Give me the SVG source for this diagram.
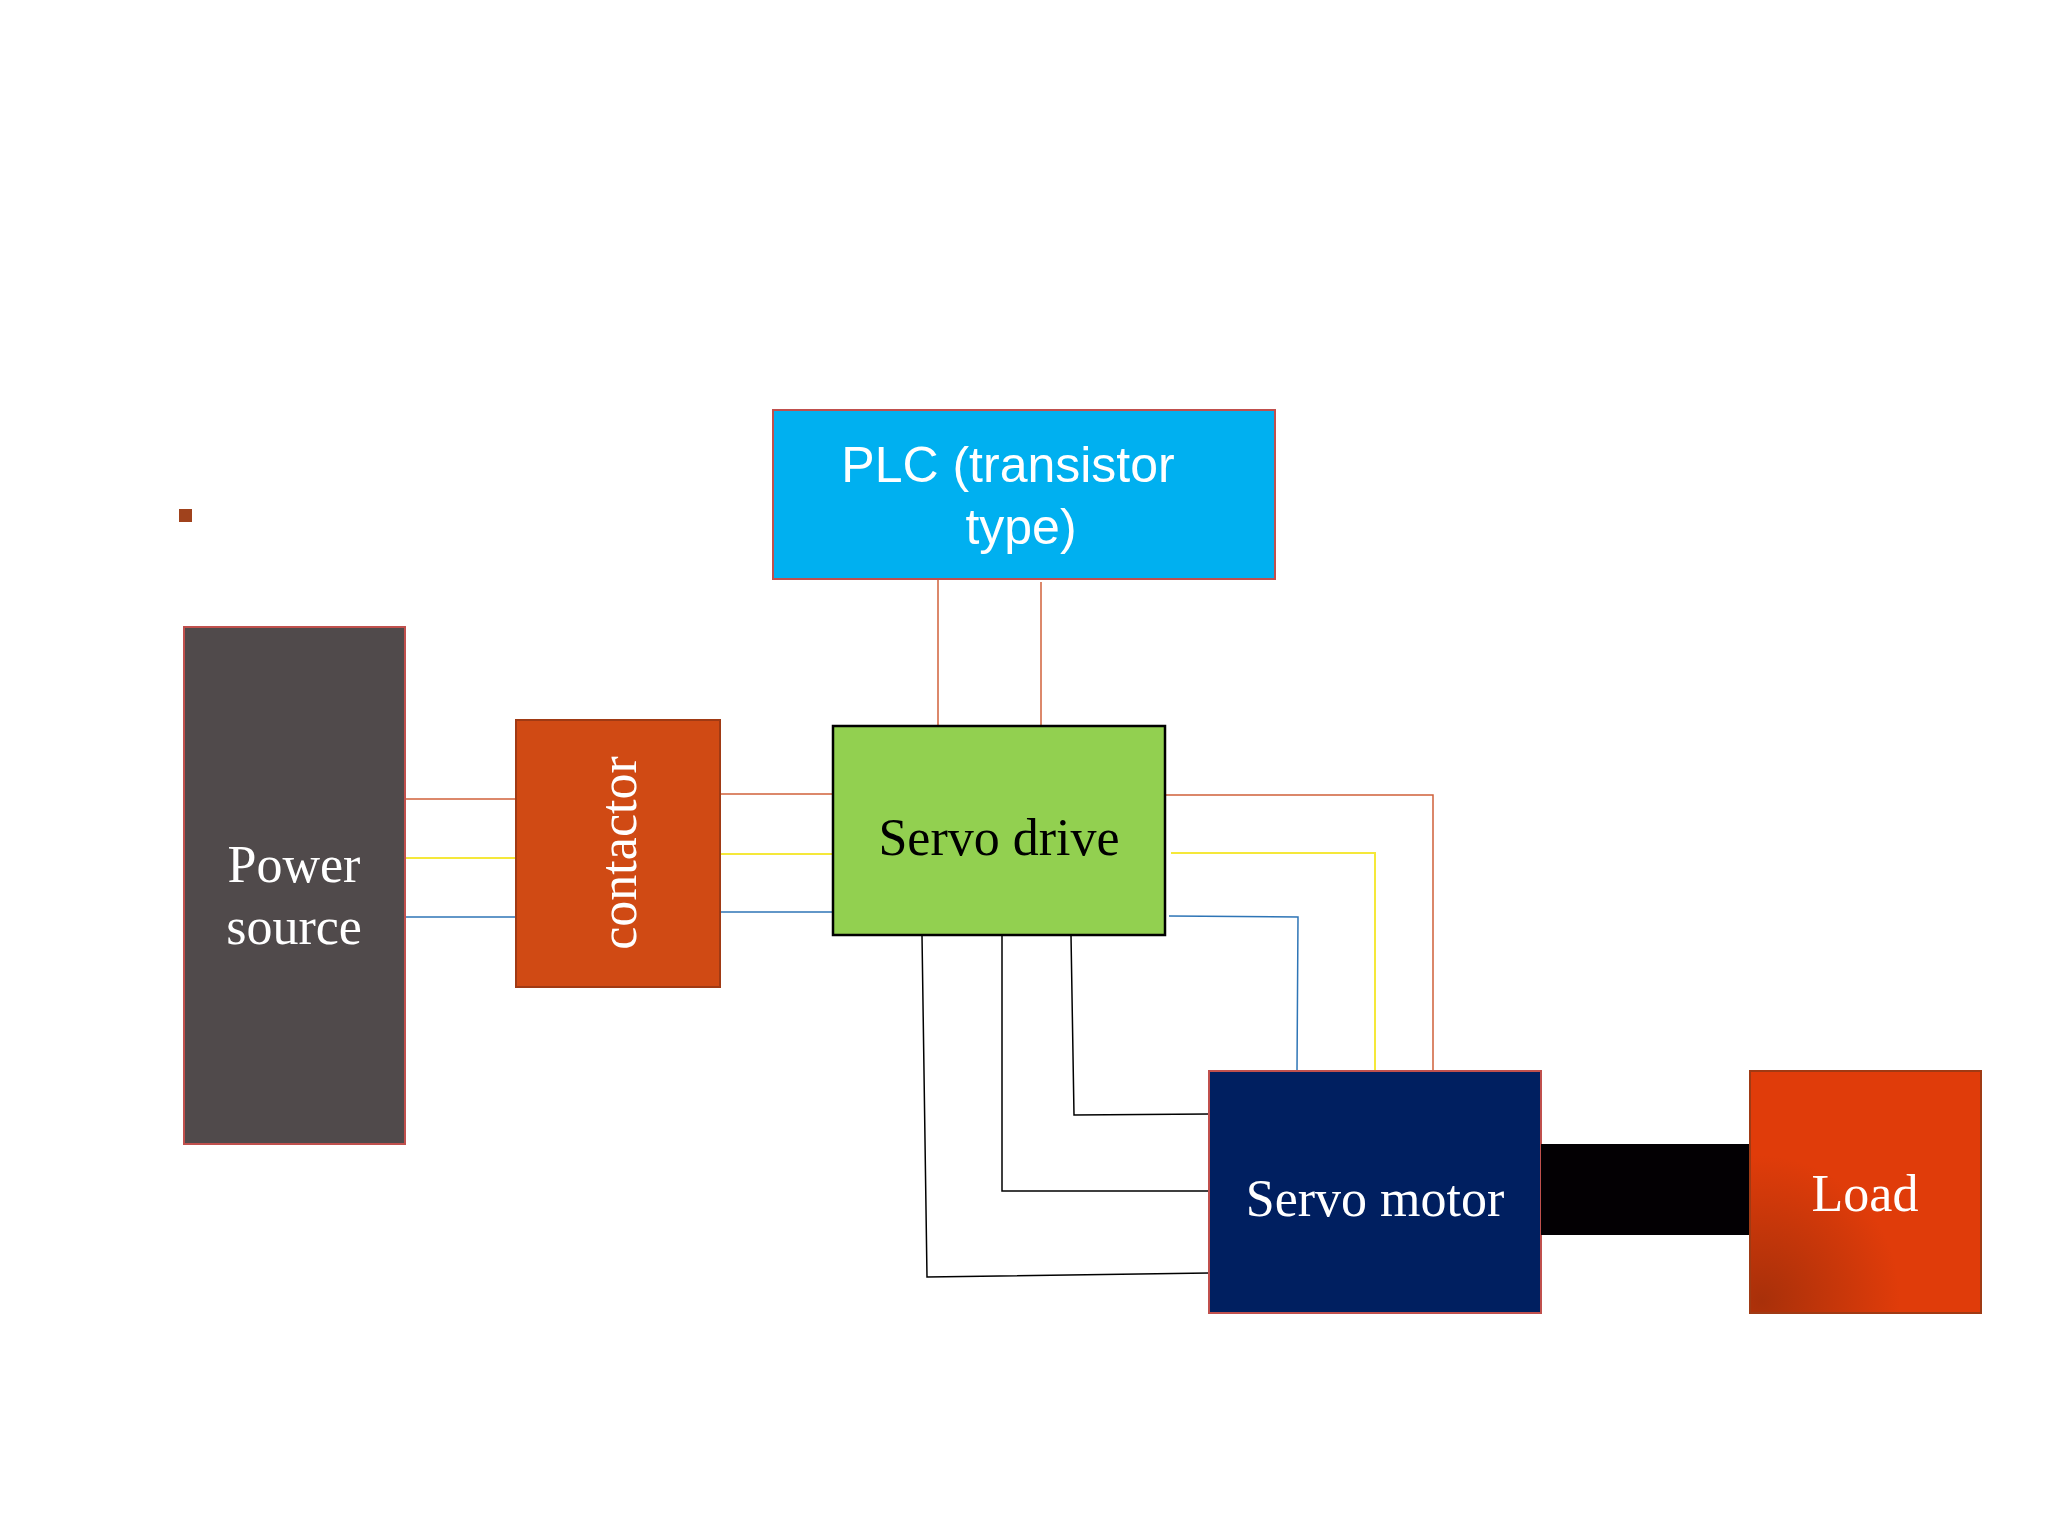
<svg xmlns="http://www.w3.org/2000/svg" width="2048" height="1536" viewBox="0 0 2048 1536">
<style>
.serif{font-family:"Liberation Serif","DejaVu Serif",serif;font-size:52px}
.sans{font-family:"Liberation Sans",Arial,sans-serif;font-size:50px}
.w{fill:#ffffff}
.r{stroke:#D0603A;stroke-width:1.5;fill:none}
.y{stroke:#F5E83A;stroke-width:2;fill:none}
.b{stroke:#2E75B6;stroke-width:1.5;fill:none}
.k{stroke:#000;stroke-width:1.5;fill:none}
</style>
<defs>
<radialGradient id="lg" cx="0.05" cy="0.95" r="0.6">
<stop offset="0" stop-color="#A8300A"/>
<stop offset="1" stop-color="#E03C0A"/>
</radialGradient>
</defs>
<rect width="2048" height="1536" fill="#fff"/>
<rect x="179" y="509" width="13" height="13" fill="#A0421C"/>
<g id="connectors">
<line class="r" x1="405" y1="799" x2="516" y2="799"/>
<line class="y" x1="405" y1="858" x2="516" y2="858"/>
<line class="b" x1="405" y1="917" x2="516" y2="917"/>
<line class="r" x1="720" y1="794" x2="833" y2="794"/>
<line class="y" x1="720" y1="854" x2="833" y2="854"/>
<line class="b" x1="720" y1="912" x2="833" y2="912"/>
<line class="r" x1="938" y1="579" x2="938" y2="731"/>
<line class="r" x1="1041" y1="582" x2="1041" y2="733"/>
<polyline class="r" points="1165,795 1433,795 1433,1071"/>
<polyline class="y" points="1171,853 1375,853 1375,1071"/>
<polyline class="b" points="1169,916 1298,917 1297,1071"/>
<polyline class="k" points="1071,935 1074,1115 1209,1114"/>
<polyline class="k" points="1002,935 1002,1191 1209,1191"/>
<polyline class="k" points="922,935 927,1277 1209,1273"/>
</g>
<g id="plc">
<rect x="773" y="410" width="502" height="169" fill="#00B0F0" stroke="#C0504D" stroke-width="2"/>
<text class="sans w" x="1008" y="482" text-anchor="middle">PLC (transistor</text>
<text class="sans w" x="1021" y="544" text-anchor="middle">type)</text>
</g>
<g id="power">
<rect x="184" y="627" width="221" height="517" fill="#504A4B" stroke="#C0504D" stroke-width="2"/>
<text class="serif w" x="294" y="882" text-anchor="middle">Power</text>
<text class="serif w" x="294" y="944" text-anchor="middle">source</text>
</g>
<g id="contactor">
<rect x="516" y="720" width="204" height="267" fill="#D04A14" stroke="#A03A14" stroke-width="2"/>
<text class="serif w" x="0" y="0" text-anchor="middle" transform="translate(636,853) rotate(-90)">contactor</text>
</g>
<g id="drive">
<rect x="833" y="726" width="332" height="209" fill="#92D050" stroke="#000" stroke-width="2.5"/>
<text class="serif" x="999" y="855" text-anchor="middle" fill="#000">Servo drive</text>
</g>
<g id="motor">
<rect x="1209" y="1071" width="332" height="242" fill="#001F60" stroke="#C0504D" stroke-width="2"/>
<text class="serif w" x="1375" y="1216" text-anchor="middle">Servo motor</text>
</g>
<g id="shaft">
<rect x="1541" y="1144" width="217" height="91" fill="#030003"/>
</g>
<g id="load">
<rect x="1750" y="1071" width="231" height="242" fill="url(#lg)" stroke="#A03A14" stroke-width="2"/>
<text class="serif w" x="1865" y="1211" text-anchor="middle">Load</text>
</g>
</svg>
